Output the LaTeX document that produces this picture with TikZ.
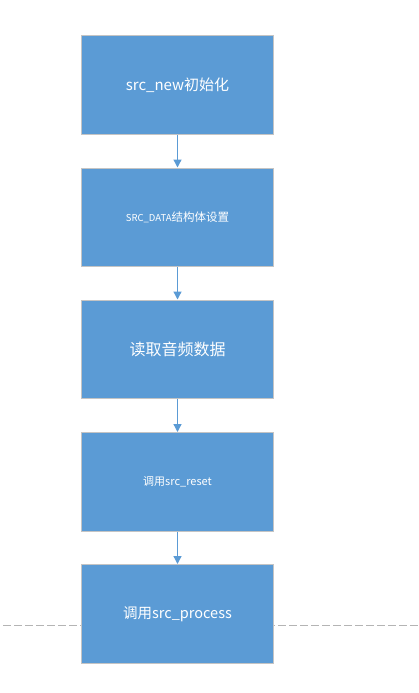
\documentclass[tikz,border=0pt]{standalone}
\usepackage{fontspec}
\setmainfont{Noto Sans CJK SC}
\usetikzlibrary{arrows.meta}
\definecolor{boxblue}{HTML}{5B9BD5}
\definecolor{boxedge}{HTML}{C4C4C4}
\definecolor{dashgray}{HTML}{B4B4B4}
\begin{document}
\begin{tikzpicture}[x=1pt,y=-1pt,
  stepbox/.style={draw=boxedge,line width=1pt,fill=boxblue,text=white,
    minimum width=192pt,minimum height=98.5pt,inner sep=0pt,anchor=north west},
  flow/.style={draw=boxblue,line width=1.3pt,-{Triangle[width=8pt,length=8pt]}}]
\useasboundingbox (0,0) rectangle (418,693);
\fill[white] (0,0) rectangle (418,693);
\draw[dashgray,line width=1.2pt,dash pattern=on 8pt off 3pt,dash phase=-3pt] (0,625.3) -- (418,625.3);
\node[stepbox,font=\fontsize{15}{18}\selectfont] (b1) at (81,35.5) {src\_new初始化};
\node[stepbox,font=\fontsize{11.5}{14}\selectfont] (b2) at (81,167.5) {{\fontsize{9.5}{14}\selectfont SRC\_DATA}结构体设置};
\node[stepbox,font=\fontsize{16}{19}\selectfont] (b3) at (81,299.5) {读取音频数据};
\node[stepbox,font=\fontsize{11}{13}\selectfont] (b4) at (81,432) {调用src\_reset};
\node[stepbox,font=\fontsize{14.5}{17}\selectfont] (b5) at (81,564) {调用src\_process};
\draw[flow] (b1.south) -- (b2.north);
\draw[flow] (b2.south) -- (b3.north);
\draw[flow] (b3.south) -- (b4.north);
\draw[flow] (b4.south) -- (b5.north);
\end{tikzpicture}
\end{document}
